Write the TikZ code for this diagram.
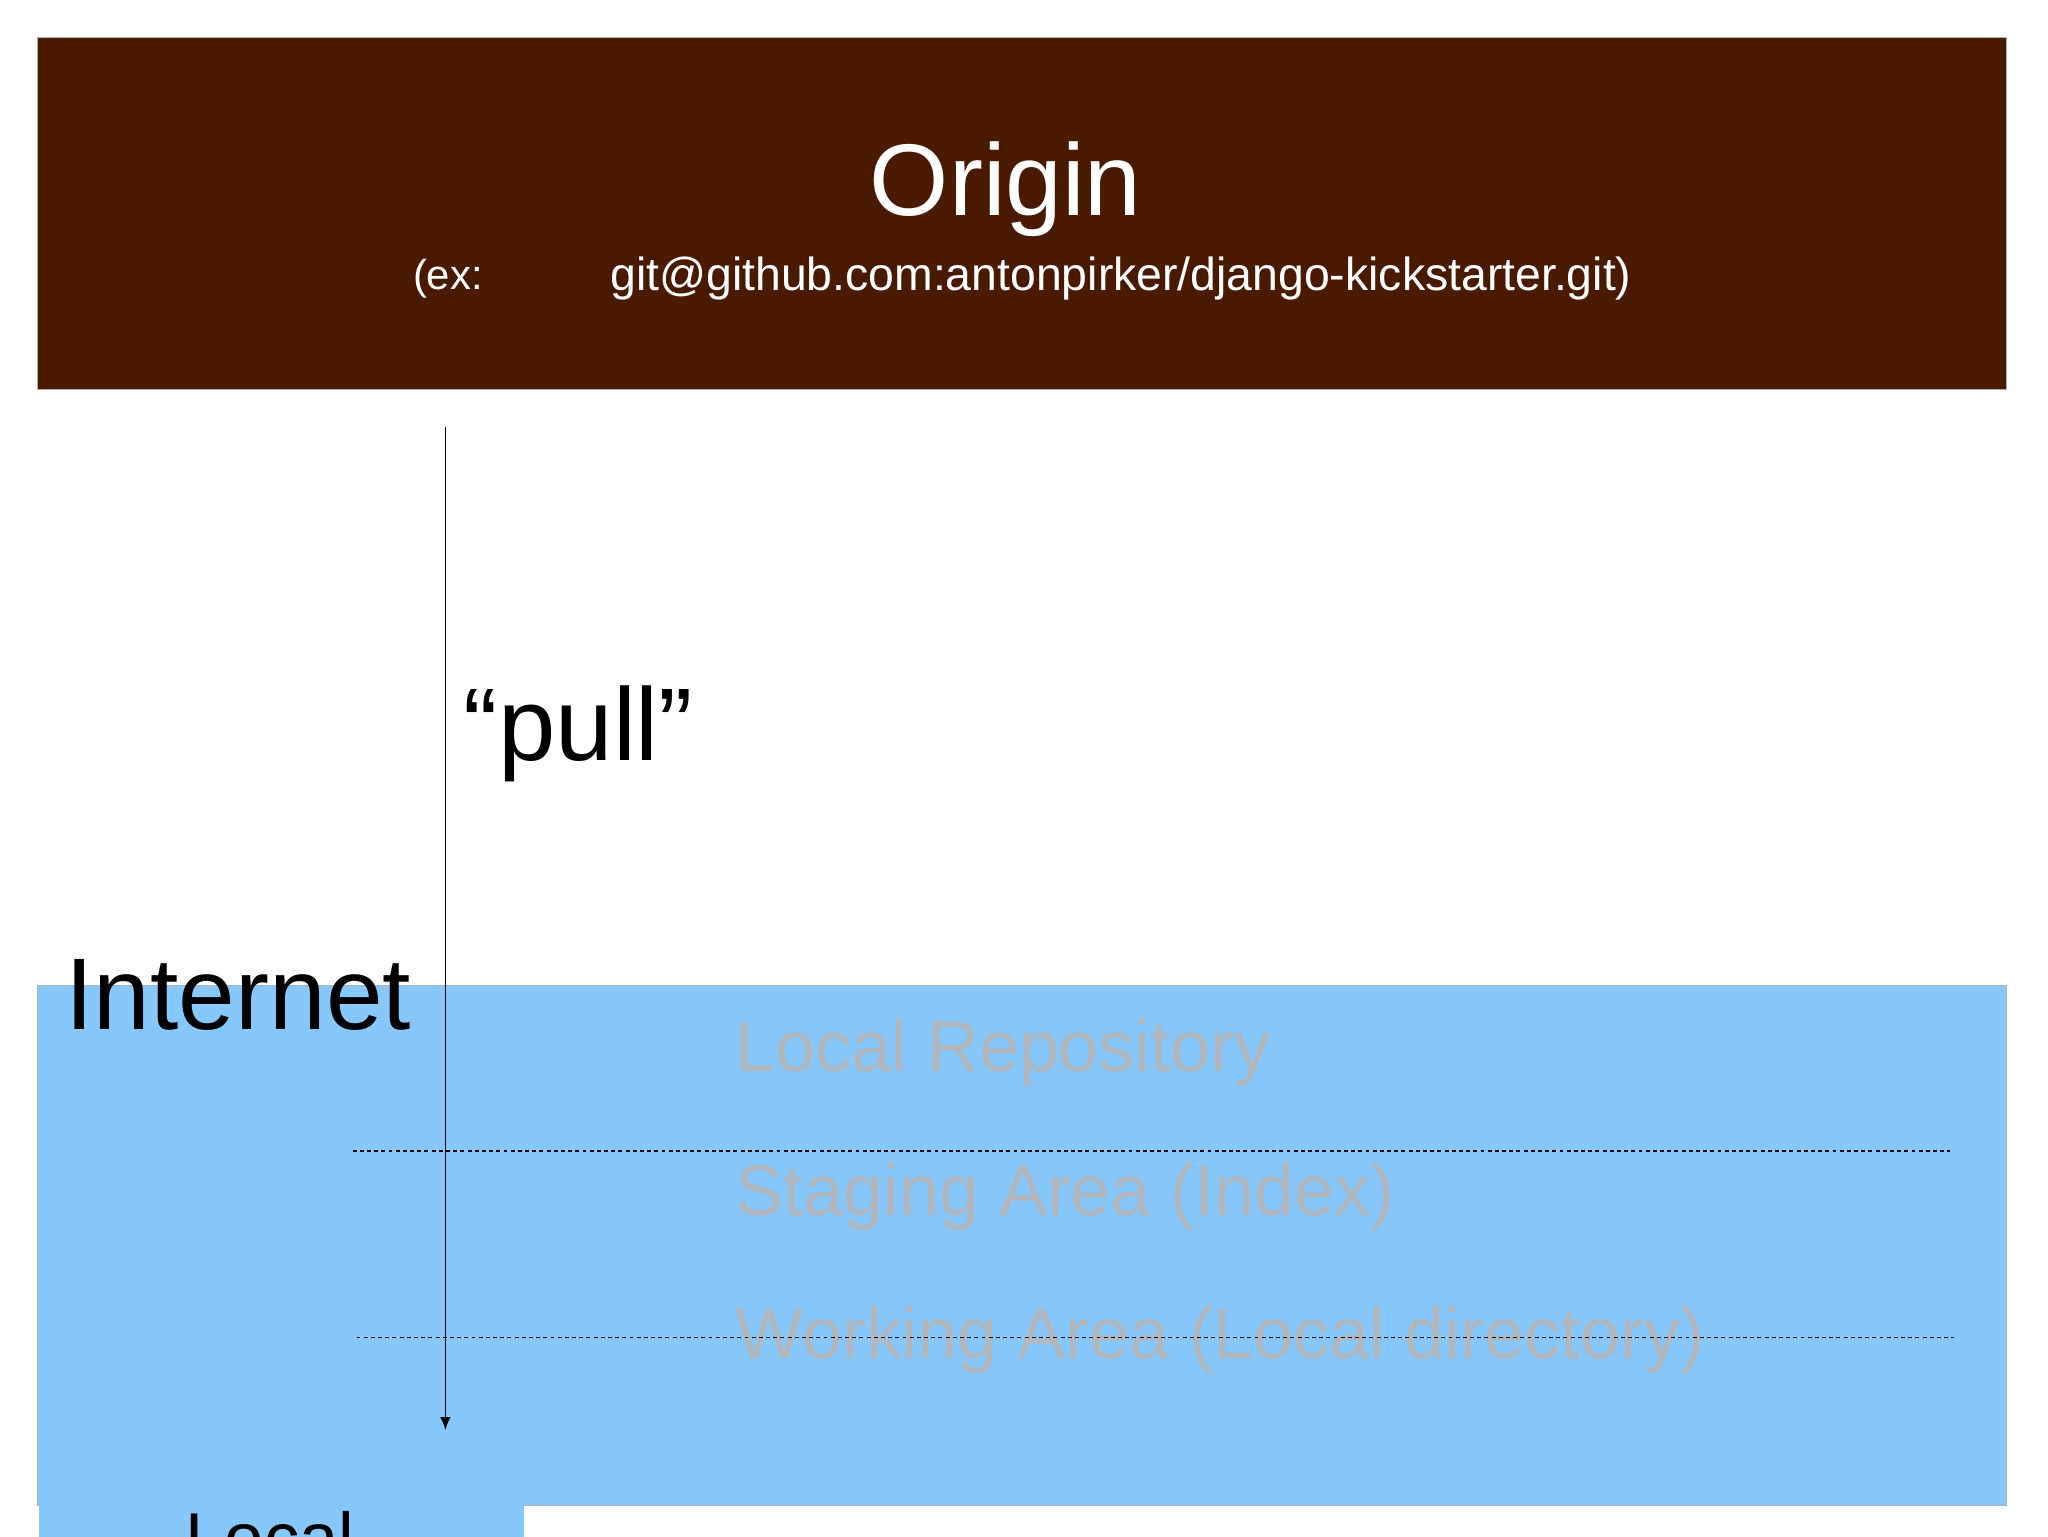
\documentclass[tikz,border=0pt]{standalone}
\usepackage{fontspec}
\usetikzlibrary{arrows.meta}
\setmainfont{Liberation Sans}
\definecolor{brownbox}{HTML}{4A1A00}
\definecolor{bluebox}{HTML}{87C8FC}
\definecolor{fadetxt}{HTML}{B2B8BE}
\tikzset{
  areatxt/.style={anchor=west,inner sep=0pt,text=fadetxt,font=\fontsize{55}{55}\selectfont},
  sepline/.style={dash pattern=on 3pt off 2.5pt,line width=1.5pt,black},
}
\begin{document}
\begin{tikzpicture}[x=1pt,y=-1pt]
\useasboundingbox (0,0) rectangle (1568,1176);
\clip (0,0) rectangle (1568,1176);
\node[draw=gray!60,fill=brownbox,minimum width=1508,minimum height=270,anchor=north west,inner sep=0pt] (origin) at (28,28) {};
\node[text=white,inner sep=0pt,font=\fontsize{78}{78}\selectfont] (otitle) at (770,145) {Origin};
\node[text=white,anchor=west,inner sep=0pt,font=\fontsize{32}{32}\selectfont] (ex) at (316,213) {(ex:};
\node[text=white,anchor=west,inner sep=0pt,font=\fontsize{35.5}{35.5}\selectfont] (url) at (467,213) {git@github.com:antonpirker/django-kickstarter.git)};
\node[draw=gray!60,fill=bluebox,minimum width=1508,minimum height=398,anchor=north west,inner sep=0pt] (local) at (28,754) {};
\node[fill=bluebox,minimum width=371,minimum height=40,anchor=north west,inner sep=0pt] (localtab) at (30,1150) {};
\node[anchor=north west,inner sep=0pt,font=\fontsize{54}{54}\selectfont] (localtxt) at (142,1157) {Local};
\node[areatxt] (repo) at (563,806) {Local Repository};
\node[areatxt] (stage) at (563,916) {Staging Area (Index)};
\node[areatxt] (work) at (563,1026) {Working Area (Local directory)};
\coordinate (s1a) at (270,881); \coordinate (s1b) at (1493,881);
\coordinate (s2a) at (273,1024); \coordinate (s2b) at (1496,1024);
\draw[sepline] (s1a) -- (s1b);
\draw[sepline] (s2a) -- (s2b);
\node[anchor=west,inner sep=0pt,font=\fontsize{78}{78}\selectfont] (internet) at (50,762) {Internet};
\coordinate (pa) at (341,327); \coordinate (pb) at (341,1095);
\draw[line width=1.3pt,-{Latex[length=10pt,width=8pt]}] (pa) -- (pb);
\node[anchor=west,inner sep=0pt,font=\fontsize{79}{79}\selectfont] (pull) at (355,562) {“pull”};
\end{tikzpicture}
\end{document}
